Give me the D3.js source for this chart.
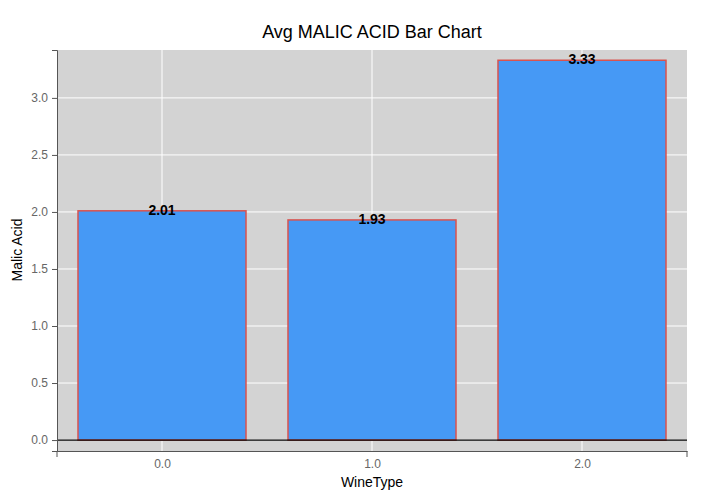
<!DOCTYPE html>
<html><head><meta charset="utf-8">
<script src="https://cdn.jsdelivr.net/npm/d3@7"></script>
<style>body{margin:0;background:#fff;font-family:"Liberation Sans",Arial,sans-serif}</style>
</head><body>
<svg id="chart" width="716" height="497"></svg>
<script>
const categories = [0, 1, 2];
const values = [2.01, 1.93, 3.33];
const yTicks = [0, 0.5, 1, 1.5, 2, 2.5, 3];

const svg = d3.select('#chart');
const margin = { top: 50, right: 29, bottom: 46, left: 57 };
const width = 716 - margin.left - margin.right;
const height = 497 - margin.top - margin.bottom;

const x = d3.scaleLinear().domain([-0.5, 2.5]).range([0, width]);
const y = d3.scaleLinear().domain([-0.096, 3.42]).range([height, 0]);

const g = svg.append('g').attr('transform', `translate(${margin.left},${margin.top})`);
g.append('rect').attr('width', width).attr('height', height).attr('fill', '#d3d3d3');

// grid
g.selectAll('.hg').data(yTicks).join('line')
  .attr('x1', 0).attr('x2', width).attr('y1', d => y(d)).attr('y2', d => y(d))
  .attr('stroke', '#fff').attr('stroke-width', 1);
g.selectAll('.vg').data(categories).join('line')
  .attr('y1', 0).attr('y2', height).attr('x1', d => x(d)).attr('x2', d => x(d))
  .attr('stroke', '#fff').attr('stroke-width', 1);

// bars
g.selectAll('.bar').data(values).join('rect')
  .attr('x', (d, i) => x(categories[i] - 0.4))
  .attr('width', x(0.4) - x(-0.4))
  .attr('y', d => y(d))
  .attr('height', d => y(0) - y(d))
  .attr('fill', '#4699f5').attr('stroke', '#d9534f').attr('stroke-width', 1.5);

g.append('line').attr('x1', 0).attr('x2', width).attr('y1', y(0)).attr('y2', y(0))
  .attr('stroke', '#000').attr('stroke-width', 1.2);

g.selectAll('.lbl').data(values).join('text')
  .attr('x', (d, i) => x(categories[i])).attr('y', d => y(d) + 4)
  .attr('text-anchor', 'middle').attr('font-weight', 'bold').attr('font-size', 14)
  .text(d => d.toFixed(2));

// axes
const xa = g.append('g').attr('transform', `translate(0,${height})`)
  .call(d3.axisBottom(x).tickValues(categories).tickFormat(d3.format('.1f')).tickSize(0).tickPadding(8));
xa.select('.domain').attr('stroke', '#555');
xa.append('line').attr('x1', 0).attr('x2', 0).attr('y1', 0).attr('y2', 6).attr('stroke', '#555');
xa.append('line').attr('x1', width).attr('x2', width).attr('y1', 0).attr('y2', 6).attr('stroke', '#555');
const ya = g.append('g')
  .call(d3.axisLeft(y).tickValues(yTicks).tickFormat(d3.format('.1f')).tickSize(5).tickPadding(4));
ya.select('.domain').attr('stroke', '#555');
[xa, ya].forEach(a => {
  a.selectAll('text').attr('fill', '#666').attr('font-size', 12).attr('font-family', '"Liberation Sans",Arial,sans-serif');
  a.selectAll('.tick line').attr('stroke', '#555');
});

svg.append('text').attr('x', 372).attr('y', 38).attr('text-anchor', 'middle')
  .attr('font-size', 18).text('Avg MALIC ACID Bar Chart');
svg.append('text').attr('x', 372).attr('y', 487).attr('text-anchor', 'middle')
  .attr('font-size', 14).text('WineType');
svg.append('text').attr('transform', 'translate(22,250) rotate(-90)').attr('text-anchor', 'middle')
  .attr('font-size', 14).text('Malic Acid');
</script>
</body></html>
